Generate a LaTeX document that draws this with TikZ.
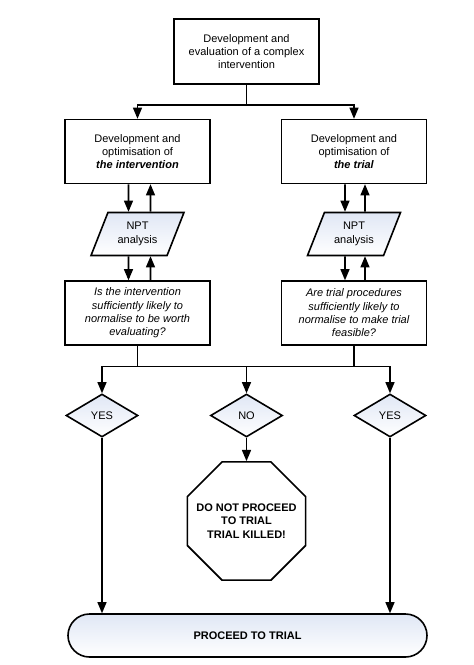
\documentclass[tikz,border=0pt]{standalone}
\usepackage{fontspec}
\setmainfont{Liberation Sans}
\usetikzlibrary{positioning,shapes,arrows,shadows}
\newcommand{\diagfont}{\fontsize{11}{13.3}\selectfont}
\definecolor{shadeblue}{RGB}{224,231,245}
\tikzstyle{squared} = [rectangle, minimum width=145pt, minimum height=64pt, text centered, align=center, draw=black, line width=1.6pt]
\tikzstyle{npt} = [trapezium, trapezium left angle=66, trapezium right angle=114, trapezium stretches=true, minimum width=93pt, minimum height=43pt, align=center, draw=black, line width=1.6pt, top color=shadeblue, bottom color=white]
\tikzstyle{boxif} = [diamond, minimum width=72pt, minimum height=43pt, inner sep=0pt, text centered, draw=black, line width=1.6pt, top color=shadeblue, bottom color=white]
\tikzstyle{stopsign} = [regular polygon, regular polygon sides=8, minimum size=128pt, inner sep=0pt, draw=black, line width=1.6pt]
\tikzstyle{terminal} = [rectangle, rounded corners=21.5pt, minimum width=359pt, minimum height=43pt, draw=black, line width=1.6pt, font=\diagfont\bfseries, top color=shadeblue, bottom color=white]
\tikzstyle{line} = [line width=1.6pt]
\tikzstyle{connect} = [line width=1.6pt,-triangle 45]

\begin{document}
\begin{tikzpicture}[node distance=100pt, font=\diagfont]
\useasboundingbox (0,0) rectangle (474pt,-665pt);
			\node (top) [squared, minimum height=65pt] at (246.5pt,-51.5pt) {Development and\\evaluation of a complex\\intervention};
			\coordinate [below of=top, node distance=53.5pt] (split);
			\node (devint) [squared, below of=top, xshift=-109pt] {Development and\\optimisation of\\\textbf{\textit{the intervention}}};
			\node (devtrial) [squared, below of=top, xshift=107.5pt] {Development and\\optimisation of\\\textbf{\textit{the trial}}};
			\node (nptint) [npt, below of=devint, node distance=82.5pt] {NPT\\analysis};
			\node (npttrial) [npt, below of=devtrial, node distance=82.5pt] {NPT\\analysis};
			\node (qint) [squared, below of=nptint, node distance=79pt, font=\diagfont\itshape] {Is the intervention\\sufficiently likely to\\normalise to be worth\\evaluating?};
			\node (qtrial) [squared, below of=npttrial, node distance=79pt, font=\diagfont\itshape] {Are trial procedures\\sufficiently likely to\\normalise to make trial\\feasible?};
			\coordinate [below of=top, node distance=315pt] (merge);
			\node (no) [boxif, below of=merge, node distance=49pt] {NO};
			\node (yesint) [boxif, left of=no, node distance=144.5pt] {YES};
			\node (yestrial) [boxif, right of=no, node distance=143.5pt] {YES};
			\node (stop) [stopsign, below of=no, node distance=105.5pt, label={[align=center, font=\diagfont\bfseries]center:DO NOT PROCEED\\TO TRIAL\\TRIAL KILLED!}] {};
			\node (proceed) [terminal, below of=stop, node distance=114.5pt, xshift=1pt] {PROCEED TO TRIAL};
			
			\draw [line] (top) -- (split);
			\draw [connect] (split) -| (devint);
			\draw [connect] (split) -| (devtrial);
			\draw [connect] ([xshift=-9pt]devint.south) -- ([xshift=-9pt]nptint.north);
			\draw [connect] ([xshift=13pt]nptint.north) -- ([xshift=13pt]devint.south);
			\draw [connect] ([xshift=-9pt]devtrial.south) -- ([xshift=-9pt]npttrial.north);
			\draw [connect] ([xshift=11pt]npttrial.north) -- ([xshift=11pt]devtrial.south);
			\draw [connect] ([xshift=-9pt]nptint.south) -- ([xshift=-9pt]qint.north);
			\draw [connect] ([xshift=13pt]qint.north) -- ([xshift=13pt]nptint.south);
			\draw [connect] ([xshift=-9pt]npttrial.south) -- ([xshift=-9pt]qtrial.north);
			\draw [connect] ([xshift=11pt]qtrial.north) -- ([xshift=11pt]npttrial.south);
			\draw [line] (qint) |- (merge);
			\draw [line] (qtrial) |- (merge);
			\draw [connect] (merge) -- (no);
			\draw [connect] (merge) -| (yesint);
			\draw [connect] (merge) -| (yestrial);
			\draw [connect] (no) -- (stop);
			\draw [connect] (yesint) -- (yesint |- proceed.north);
			\draw [connect] (yestrial) -- (yestrial |- proceed.north);
\end{tikzpicture}
\end{document}
